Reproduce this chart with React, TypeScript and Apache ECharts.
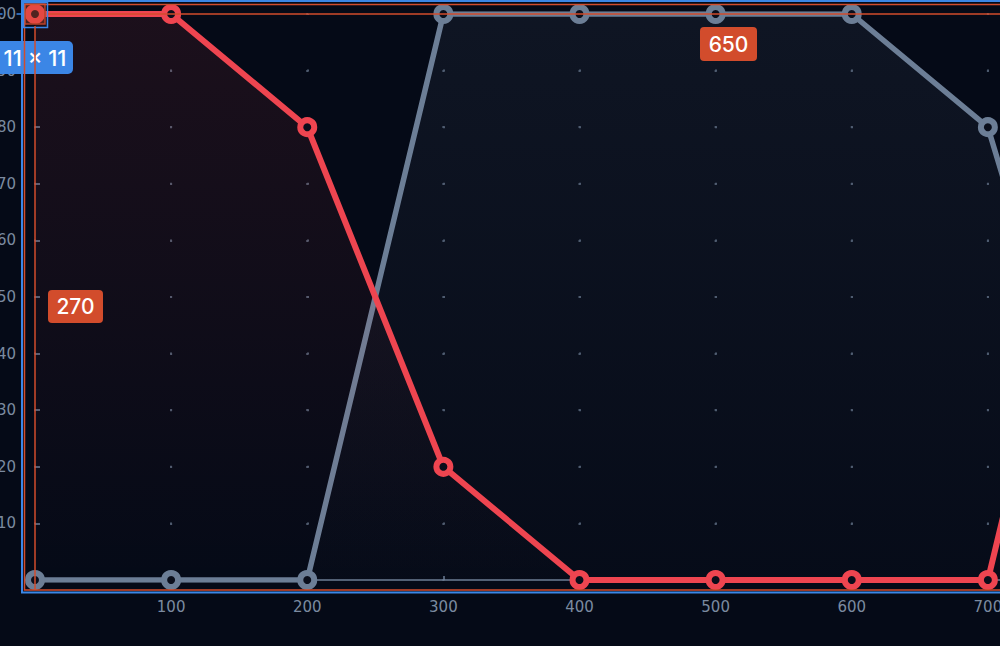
import React, { useRef, useEffect } from 'react';
import * as echarts from 'echarts';

const xValues = [0, 100, 200, 300, 400, 500, 600, 700, 800];
const redValues = [100, 100, 80, 20, 0, 0, 0, 0, 100];
const grayValues = [0, 0, 0, 100, 100, 100, 100, 80, 0];

const RED = '#ee4550';
const GRAY = '#6c7e96';
const OVERLAY_RED = '#d24c2c';
const OVERLAY_BLUE = '#3b86e6';
const BG = '#050a17';

export default function App() {
  const chartRef = useRef<HTMLDivElement>(null);

  useEffect(() => {
    if (!chartRef.current) return;
    const chart = echarts.init(chartRef.current, undefined, { renderer: 'svg' });

    const gridLeft = 35;
    const gridTop = 14;
    const gridRight = -124;
    const gridBottom = 66;
    const plotW = 1000 - gridLeft - gridRight;
    const plotH = 646 - gridTop - gridBottom;
    const stepX = plotW / 8;
    const stepY = plotH / 10;

    const lineSeries = (name: string, values: number[], color: string, rgb: string, width: number, z: number, a0: number, a1: number) => ({
      name,
      type: 'line',
      z,
      data: xValues.map((x, i) => [x, values[i]]),
      symbol: 'circle',
      symbolSize: 14,
      showAllSymbol: true,
      lineStyle: { color, width },
      itemStyle: { color: '#0a0e1b', borderColor: color, borderWidth: 6 },
      areaStyle: {
        color: new echarts.graphic.LinearGradient(0, 0, 0, 1, [
          { offset: 0, color: `rgba(${rgb},${a0})` },
          { offset: 1, color: `rgba(${rgb},${a1})` },
        ]),
      },
    });

    const option: any = {
      animation: false,
      backgroundColor: BG,
      grid: {
        left: gridLeft, top: gridTop, right: gridRight, bottom: gridBottom,
        containLabel: false, outerBoundsMode: 'none',
      },
      xAxis: {
        type: 'value',
        min: 0,
        max: 800,
        interval: 100,
        axisLine: { show: true, lineStyle: { color: GRAY, width: 1.5 } },
        axisTick: { show: true, inside: true, length: 4, lineStyle: { color: GRAY, width: 1.5 } },
        axisLabel: { color: '#7b8aa0', fontSize: 15, margin: 19, showMinLabel: false, fontFamily: 'DejaVu Sans' },
        splitLine: {
          show: true,
          lineStyle: { color: '#4d5a6e', width: 2, type: [2, stepY - 2], dashOffset: 1 },
        },
      },
      yAxis: {
        type: 'value',
        min: 0,
        max: 100,
        interval: 10,
        axisLine: { show: false },
        axisTick: { show: true, inside: true, length: 5, lineStyle: { color: GRAY, width: 1.5 } },
        axisLabel: { color: '#7b8aa0', fontSize: 15, margin: 19, showMinLabel: false, fontFamily: 'DejaVu Sans' },
        splitLine: {
          show: true,
          lineStyle: { color: '#4d5a6e', width: 2, type: [2, stepX - 2], dashOffset: 1 },
        },
      },
      series: [
        lineSeries('gray', grayValues, GRAY, '100,116,139', 5.5, 2, 0.15, 0.02),
        lineSeries('red', redValues, RED, '239,68,68', 6, 3, 0.14, 0.0),
      ],
      graphic: [
        // size badge
        { type: 'rect', z: 100, shape: { x: -10, y: 41, width: 83, height: 33, r: 5 }, style: { fill: OVERLAY_BLUE } },
        { type: 'text', z: 101, x: 35, y: 57.5, style: { text: '11 × 11', fill: '#ffffff', font: '500 22px Inter', align: 'center', verticalAlign: 'middle' } },
        // selection frame
        { type: 'rect', z: 102, shape: { x: 22, y: 1, width: 1100, height: 591.5 }, style: { fill: 'none', stroke: OVERLAY_BLUE, lineWidth: 2 } },
        { type: 'rect', z: 103, shape: { x: 24.5, y: 4.5, width: 1100, height: 585.5 }, style: { fill: 'none', stroke: OVERLAY_RED, lineWidth: 1.5 } },
        // selected marker box
        { type: 'rect', z: 99, shape: { x: 25, y: 4, width: 20, height: 20 }, style: { fill: 'rgba(210,76,44,0.35)', stroke: '#b8422a', lineWidth: 1.5 } },
        { type: 'rect', z: 104, shape: { x: 23.5, y: 2.5, width: 24, height: 25 }, style: { fill: 'none', stroke: OVERLAY_BLUE, lineWidth: 1.5 } },
        // crosshair
        { type: 'line', z: 104, shape: { x1: 35, y1: 26, x2: 35, y2: 590 }, style: { stroke: OVERLAY_RED, lineWidth: 1.5 } },
        { type: 'line', z: 104, shape: { x1: 48, y1: 14, x2: 1000, y2: 14 }, style: { stroke: OVERLAY_RED, lineWidth: 1.5 } },
        { type: 'line', z: 104, shape: { x1: 0, y1: 14, x2: 2.5, y2: 14 }, style: { stroke: OVERLAY_BLUE, lineWidth: 1.5 } },
        { type: 'line', z: 104, shape: { x1: 16.5, y1: 14, x2: 22, y2: 14 }, style: { stroke: OVERLAY_BLUE, lineWidth: 1.5 } },
        // distance badges
        { type: 'rect', z: 105, shape: { x: 48, y: 290, width: 55, height: 33, r: 4 }, style: { fill: OVERLAY_RED } },
        { type: 'text', z: 106, x: 75.5, y: 306.5, style: { text: '270', fill: '#ffffff', font: '500 21px Inter', align: 'center', verticalAlign: 'middle' } },
        { type: 'rect', z: 105, shape: { x: 700, y: 27, width: 57, height: 34, r: 4 }, style: { fill: OVERLAY_RED } },
        { type: 'text', z: 106, x: 728.5, y: 44, style: { text: '650', fill: '#ffffff', font: '500 21px Inter', align: 'center', verticalAlign: 'middle' } },
      ],
    };

    chart.setOption(option);
    return () => { chart.dispose(); };
  }, []);

  return (
    <div style={{ position: 'fixed', left: 0, top: 0, width: 1000, height: 646, overflow: 'hidden', background: BG }}>
      <div ref={chartRef} style={{ width: 1000, height: 646 }} />
    </div>
  );
}
